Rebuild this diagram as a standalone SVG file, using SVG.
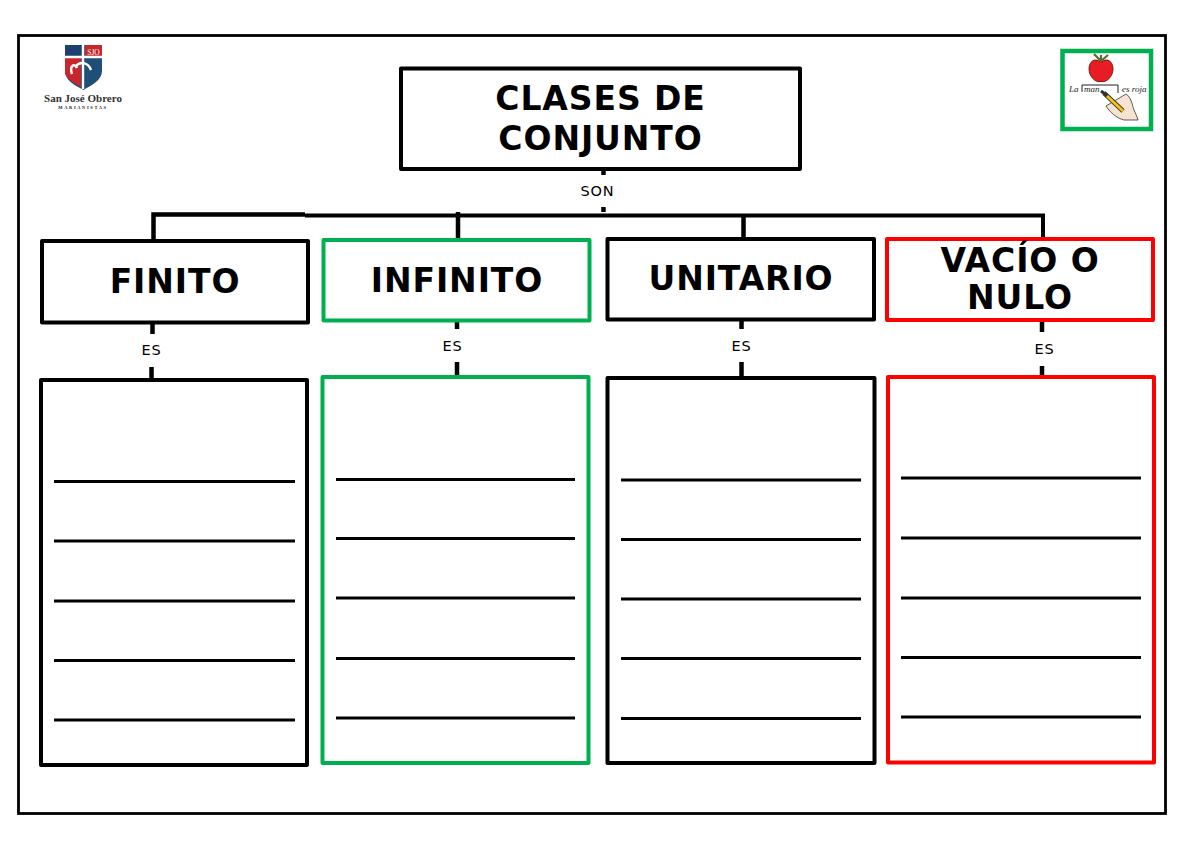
<svg xmlns="http://www.w3.org/2000/svg" width="1200" height="849" viewBox="0 0 1200 849">
<style>
.b{fill:#fff;stroke:#000;stroke-width:4;stroke-linejoin:round}
.g{stroke:#00b050}.r{stroke:#ff0000}
.t{font-family:"DejaVu Sans",sans-serif;font-weight:700;font-size:33px;letter-spacing:.9px;text-anchor:middle;fill:#000}
.s{font-family:"DejaVu Sans",sans-serif;font-size:14.500px;letter-spacing:.9px;text-anchor:middle;fill:#000}
.w{stroke:#000;stroke-width:3;fill:none}
.c{stroke:#000;stroke-width:4.500;fill:none}
.lg{font-family:"Liberation Serif",serif;text-anchor:middle;fill:#222}
.hw{font-family:"Liberation Serif",serif;font-style:italic;font-size:9px;fill:#222}
</style>
<rect id="frame" x="18.500" y="35.500" width="1147" height="778" fill="#fff" stroke="#000" stroke-width="2.800"/>
<g id="connectors">
<path class="c" d="M603.500 169v6M603.500 207v5"/>
<path class="c" d="M153.500 241V214.500H305"/>
<path d="M305 215.500H1043V240" stroke="#000" stroke-width="4" fill="none"/>
<path class="c" d="M458 212V240M743.500 216V239"/>
<path class="c" d="M152.500 323v11M151.500 367v12"/>
<path class="c" d="M457 322v7M457 362v15"/>
<path class="c" d="M741.500 320v9M741.500 362v16"/>
<path class="c" d="M1042 321v11M1042 366v11"/>
</g>
<g id="label-son"><text class="s" x="597.500" y="196">SON</text></g>
<g id="label-es-1"><text class="s" x="151.500" y="355">ES</text></g>
<g id="label-es-2"><text class="s" x="452.500" y="351">ES</text></g>
<g id="label-es-3"><text class="s" x="741.500" y="351">ES</text></g>
<g id="label-es-4"><text class="s" x="1044.500" y="354">ES</text></g>
<g id="logo">
<path d="M65 45H102V71C102 80 92 85 83.500 90C74 85 65 80 65 71Z" fill="#1f4e79"/>
<rect x="65" y="45" width="16" height="12" fill="#1f3f72"/>
<rect x="85" y="45" width="17" height="12" fill="#c9252d"/>
<path d="M65 58H81V87C72 82 65 78 65 71Z" fill="#c9252d"/>
<path d="M65 57H102M83 45V89" stroke="#fff" stroke-width="2.400" fill="none"/>
<path d="M72 74C69 65 75 63 77 68M76 66C80 61 88 62 91 70" stroke="#fff" stroke-width="2.500" fill="none"/>
<text class="lg" x="93.500" y="54.500" font-size="7.500" style="fill:#fff">SJO</text>
<text class="lg" x="83" y="102" font-size="11" font-weight="700" style="fill:#333">San José Obrero</text>
<text class="lg" x="83" y="109" font-size="4.500" letter-spacing="1.600" font-weight="700">MARIANISTAS</text>
</g>
<g id="icon">
<rect x="1062.500" y="51" width="88.500" height="78" fill="#fff" stroke="#00b050" stroke-width="4.500"/>
<path d="M1101 62C1094 57 1089 62 1089 69C1089 76 1095 83 1101 81.500C1107 83 1113 76 1113 69C1113 62 1108 57 1101 62Z" fill="#e81c24" stroke="#600" stroke-width=".8"/>
<path d="M1101 61L1094 54M1101 61L1108 55M1101 61V55" stroke="#5a6b2a" stroke-width="2.200"/>
<path d="M1082 92V85H1118V93" fill="none" stroke="#222" stroke-width="1"/>
<text class="hw" x="1069" y="92">La</text>
<text class="hw" x="1084" y="92">man</text>
<text class="hw" x="1122" y="92">es roja</text>
<path d="M1106 106L1126 94C1131 97 1132 104 1134 110C1136 114 1137 117 1138 120L1124 120C1116 118 1110 112 1106 106Z" fill="#f6e3d0" stroke="#333" stroke-width=".8"/>
<path d="M1101 91L1105 94" stroke="#333" stroke-width="3"/>
<path d="M1104 93L1123 111" stroke="#333" stroke-width="4.500"/>
<path d="M1107 96L1123 111" stroke="#f2c11a" stroke-width="3"/>
</g>
<g id="title"><rect class="b" x="401" y="68.500" width="399" height="100.500"/>
<text class="t" x="600.500" y="110">CLASES DE</text><text class="t" x="600.500" y="149.500">CONJUNTO</text></g>
<g id="finito"><rect class="b" x="42" y="241" width="266" height="81.500"/><text class="t" x="175" y="293">FINITO</text></g>
<g id="infinito"><rect class="b g" x="323.500" y="240" width="266" height="80.500"/><text class="t" x="457" y="292">INFINITO</text></g>
<g id="unitario"><rect class="b" x="607.500" y="239" width="266.500" height="80.500"/><text class="t" x="741" y="289.500">UNITARIO</text></g>
<g id="vacio"><rect class="b r" x="887" y="239" width="266" height="81"/><text class="t" x="1020" y="272">VACÍO O</text><text class="t" x="1020" y="309">NULO</text></g>
<g id="box-finito"><rect class="b" x="41" y="380" width="266" height="385"/><path class="w" d="M54 481.500H295M54 541H295M54 601H295M54 660.500H295M54 720H295"/></g>
<g id="box-infinito"><rect class="b g" x="322.500" y="377" width="266" height="386"/><path class="w" d="M336 479.500H575M336 538.500H575M336 598H575M336 658.500H575M336 718H575"/></g>
<g id="box-unitario"><rect class="b" x="607.500" y="378" width="267" height="385"/><path class="w" d="M621 480H861M621 539.500H861M621 599H861M621 658.500H861M621 718.500H861"/></g>
<g id="box-vacio"><rect class="b r" x="888" y="377" width="266" height="385.500"/><path class="w" d="M901 478H1141M901 538H1141M901 598H1141M901 657.500H1141M901 717H1141"/></g>
</svg>
